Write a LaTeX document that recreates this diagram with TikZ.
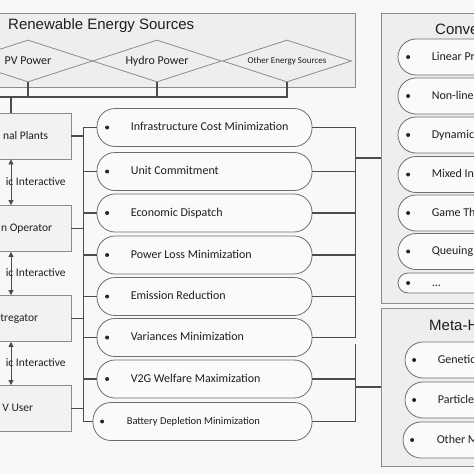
\documentclass[tikz,border=0pt]{standalone}
\usepackage{fontspec}
\setmainfont{Carlito}
\newfontfamily\headfont{Liberation Sans}
\usetikzlibrary{shapes.geometric,arrows.meta}
\definecolor{bgc}{HTML}{F8F8F8}
\definecolor{panelc}{HTML}{EEEEEE}
\definecolor{boxc}{HTML}{F2F2F2}
\definecolor{pillc}{HTML}{FAFAFA}
\definecolor{edgec}{HTML}{8C8C8C}
\definecolor{pilledge}{HTML}{6E6E6E}
\definecolor{wirec}{HTML}{4C4C4C}
\definecolor{textc}{HTML}{1E1E1E}
\begin{document}
\begin{tikzpicture}[x=1pt,y=-1pt,
  panel/.style={draw=edgec,fill=panelc,line width=0.8pt,inner sep=0pt},
  unitbox/.style={draw=edgec,fill=boxc,line width=0.8pt,minimum width=120pt,minimum height=46pt,inner sep=0pt},
  src/.style={diamond,draw=edgec,fill=panelc,line width=0.8pt,shape aspect=3.07,text=textc,
    minimum width=129pt,minimum height=42pt,inner sep=0pt,font=\fontsize{12}{14}\selectfont},
  pill/.style={draw=pilledge,fill=pillc,line width=0.8pt,rounded corners=18pt,
    minimum width=215pt,minimum height=38pt,inner sep=0pt},
  cpill/.style={pill,minimum width=160pt,minimum height=36pt},
  ptext/.style={anchor=west,inner sep=0pt,text=textc,text height=1.6ex,text depth=0.3ex,font=\fontsize{12}{14}\selectfont},
  btext/.style={anchor=east,inner sep=0pt,text=textc,text height=1.6ex,text depth=0.3ex,font=\fontsize{11.5}{14}\selectfont},
  head/.style={anchor=west,inner sep=0pt,text=textc,font=\headfont\fontsize{15}{18}\selectfont},
  wire/.style={wirec,line width=1.5pt},
  dual/.style={wirec,line width=0.8pt,{Triangle[length=5pt,width=5pt]}-{Triangle[length=5pt,width=5pt]}}]
\useasboundingbox (0,0) rectangle (474,474);
\fill[bgc] (0,0) rectangle (474,474);
\clip (0,0) rectangle (474,474);

% renewable sources
\node[panel,minimum width=375pt,minimum height=74pt] (res) at (167.5,50) {};
\node[head] (restitle) at (8,26) {Renewable Energy Sources};
\node[src] (pv) at (28,61) {PV Power};
\node[src] (hydro) at (157,61) {Hydro Power};
\node[src,font=\fontsize{9}{11}\selectfont] (other) at (287,61) {Other Energy Sources};

% participants
\node[unitbox,label={[btext,xshift=-23pt]east:nal Plants}] (plants) at (11,136) {};
\node[unitbox,label={[btext,xshift=-19pt]east:n Operator}] (operator) at (11,228.5) {};
\node[unitbox,label={[btext,xshift=-33pt]east:tregator}] (aggr) at (11,318.5) {};
\node[unitbox,label={[btext,xshift=-38pt]east:V User}] (user) at (11,408.5) {};
\draw[dual] (plants.south) -- node[btext,midway,xshift=55pt] {ic Interactive} (operator.north);
\draw[dual] (operator.south) -- node[btext,midway,xshift=55pt] {ic Interactive} (aggr.north);
\draw[dual] (aggr.south) -- node[btext,midway,xshift=55pt] {ic Interactive} (user.north);

% objectives
\node[pill,label={[ptext,xshift=34pt]west:Infrastructure Cost Minimization}] (infra) at (204.5,127.5) {};
\node[pill,label={[ptext,xshift=34pt]west:Unit Commitment}] (unit) at (204.5,171.5) {};
\node[pill,label={[ptext,xshift=34pt]west:Economic Dispatch}] (disp) at (204.5,213) {};
\node[pill,label={[ptext,xshift=34pt]west:Power Loss Minimization}] (loss) at (204.5,255) {};
\node[pill,label={[ptext,xshift=34pt]west:Emission Reduction}] (emis) at (204.5,296.5) {};
\node[pill,label={[ptext,xshift=34pt]west:Variances Minimization}] (vari) at (204.5,337.5) {};
\node[pill,label={[ptext,xshift=34pt]west:V2G Welfare Maximization}] (vtog) at (204.5,379) {};
\node[pill,minimum width=219pt,label={[ptext,xshift=34pt,font=\fontsize{10.5}{12}\selectfont]west:Battery Depletion Minimization}] (batt) at (202.5,421.5) {};

% methods
\node[panel,minimum width=160pt,minimum height=290pt] (conv) at (461,158) {};
\node[head] (convtitle) at (435,29) {Conve};
\node[cpill,label={[ptext,xshift=34pt]west:Linear Pr}] (lp) at (478,57) {};
\node[cpill,label={[ptext,xshift=34pt]west:Non-line}] (nlp) at (478,96) {};
\node[cpill,label={[ptext,xshift=34pt]west:Dynamic}] (dyn) at (478,135) {};
\node[cpill,label={[ptext,xshift=34pt]west:Mixed In}] (mip) at (478,174.5) {};
\node[cpill,label={[ptext,xshift=34pt]west:Game Th}] (game) at (478,213) {};
\node[cpill,label={[ptext,xshift=34pt]west:Queuing}] (queue) at (478,251.5) {};
\node[cpill,minimum height=20pt,rounded corners=10pt,label={[ptext,xshift=34pt]west:...}] (more) at (478,283) {};

\node[panel,minimum width=160pt,minimum height=158pt] (meta) at (461,387) {};
\node[head] (metatitle) at (429,325) {Meta-H};
\node[cpill,label={[ptext,xshift=33pt]west:Genetic}] (ga) at (485,360) {};
\node[cpill,label={[ptext,xshift=33pt]west:Particle}] (pso) at (485,400) {};
\node[cpill,label={[ptext,xshift=34pt]west:Other M}] (othm) at (483,440) {};

% bullets
\foreach \p in {infra,unit,disp,loss,emis,vari,vtog,lp,nlp,dyn,mip,game,queue,more}
  \fill[black!85] ([xshift=10.5pt]\p.west) circle (2pt);
\foreach \p in {batt,ga,pso,othm}
  \fill[black!85] ([xshift=9.5pt]\p.west) circle (2pt);

% connectors
\coordinate (srcbus) at (-5,97);
\draw[wire] (pv.south) -- (pv.south |- srcbus);
\draw[wire] (hydro.south) -- (hydro.south |- srcbus);
\draw[wire] (other.south) |- (srcbus);
\draw[wire] (plants.north) -- (plants.north |- srcbus);

\draw[wire] (infra.west) -- ++(-13,0) |- (batt.west);
\foreach \p in {unit,disp,loss,emis,vari,vtog}
  \draw[wire] (\p.west) -- ++(-13,0);
\foreach \b in {plants,operator,aggr,user}
  \draw[wire] (\b.east) -- ++(13,0);

\draw[wire] (infra.east) -- ++(43,0) |- (vari.east);
\foreach \p in {unit,disp,loss,emis}
  \draw[wire] (\p.east) -- ++(43,0);
\draw[wire] (conv.west) -- ++(-26,0);
\draw[wire] (batt.east) -- ++(43,0) -- ++(0,-78);
\draw[wire] (vtog.east) -- ++(43,0);
\draw[wire] (meta.west) -- ++(-26,0);
\end{tikzpicture}
\end{document}
